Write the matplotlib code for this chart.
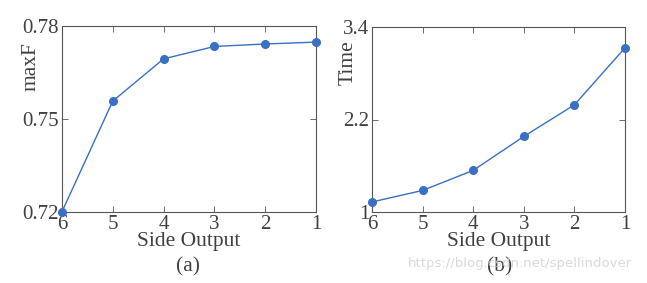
import matplotlib.pyplot as plt

# side output index (plotted from 6 down to 1)
sides = [6, 5, 4, 3, 2, 1]
maxf = [0.7201, 0.7558, 0.7694, 0.7734, 0.7742, 0.7748]
times = [1.13, 1.28, 1.54, 1.98, 2.39, 3.13]

plt.rcParams['font.family'] = ['Liberation Serif', 'DejaVu Serif']
txt = '#404040'
blue = '#3A6FC4'

fig = plt.figure(figsize=(6.47, 2.83), dpi=100)
ax1 = fig.add_axes([62/647, 1 - 212/283, 254/647, 186/283])
ax2 = fig.add_axes([372/647, 1 - 212/283, 253/647, 185/283])

def style(ax, ylim, yticks, ylabel, lx, ly):
    ax.set_xlim(6, 1)
    ax.set_ylim(*ylim)
    ax.set_xticks(sides)
    ax.set_yticks(yticks)
    ax.tick_params(direction='in', top=True, right=True, labelsize=15,
                   colors='#555555', labelcolor=txt, length=4, width=0.6, pad=2)
    for s in ax.spines.values():
        s.set_color('#555555')
        s.set_linewidth(0.8)
    ax.set_xlabel('Side Output', fontsize=15.5, color=txt, labelpad=-1)
    ax.set_ylabel(ylabel, fontsize=15.5, color=txt)
    ax.yaxis.set_label_coords(lx, ly)

ax1.plot(sides, maxf, '-o', color=blue, lw=1, ms=5.5, clip_on=False, zorder=3)
style(ax1, (0.72, 0.78), [0.72, 0.75, 0.78], 'maxF', -0.085, 0.78)
ax1.set_yticklabels(['0.72', '0.75', '0.78'])

ax2.plot(sides, times, '-o', color=blue, lw=1, ms=5.5, clip_on=False, zorder=3)
style(ax2, (1, 3.4), [1, 2.2, 3.4], 'Time', -0.058, 0.805)
ax2.set_yticklabels(['1', '2.2', '3.4'])

fig.text(188/647, 1 - 267/283, '(a)', ha='center', va='center', fontsize=15.5, color=txt)
fig.text(500/647, 1 - 267/283, '(b)', ha='center', va='center', fontsize=15.5, color=txt)
fig.text(520/647, 1 - 264/283, 'https://blog.csdn.net/spellindover', ha='center', va='center',
         fontsize=9.5, color='#d0d0d0', family='DejaVu Sans', alpha=0.8)

fig.savefig('out.png', dpi=100)
